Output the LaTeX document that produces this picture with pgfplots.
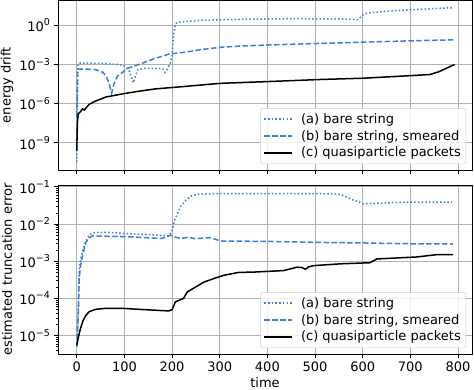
\documentclass[border=0pt]{standalone}
\usepackage{fontspec}
\setmainfont{DejaVu Sans}
\usepackage{pgfplots}
\pgfplotsset{compat=1.18}
\definecolor{mblue}{RGB}{56,128,218}
\definecolor{gridc}{RGB}{176,176,176}
\newcommand{\tl}[1]{10\raisebox{0.45em}{\fontsize{9.5}{9.5}\selectfont #1}}
\tikzset{
  la/.style={mblue, line width=1.5pt, dash pattern=on 1.5pt off 2.2pt},
  lb/.style={mblue, line width=1.5pt, dash pattern=on 5.5pt off 2.4pt},
  lc/.style={black, line width=1.5pt},
}
\pgfplotsset{
  legend image code/.code={\draw[#1] (0pt,0pt) -- (28pt,0pt);},
  myax/.style={
    scale only axis, width=414pt,
    xmin=-39.5, xmax=829.5,
    xtick={0,100,...,800},
    grid=major,
    major grid style={gridc, line width=0.8pt},
    axis line style={line width=0.8pt},
    tick align=outside, tick pos=left,
    major tick length=3.5pt, minor tick length=2pt,
    every tick/.style={black, line width=0.8pt},
    minor tick style={black, line width=0.6pt},
    tick label style={font=\fontsize{13}{15}\selectfont},
    label style={font=\fontsize{13}{15}\selectfont},
    every axis y label/.style={at={(axis description cs:0,0.5)}, xshift=-51pt, rotate=90, anchor=center},
    legend style={at={(axis description cs:1,0)}, anchor=south east, xshift=-6pt, yshift=6pt,
      draw=gray!40, rounded corners=2pt, fill=white, fill opacity=0.8, text opacity=1,
      font=\fontsize{13}{15}\selectfont, cells={anchor=west}, row sep=1pt,
      inner xsep=3pt, inner ysep=3pt,
      /tikz/every odd column/.append style={column sep=6pt}},
  }
}
\begin{document}
\fontsize{13}{15.6}\selectfont
\begin{tikzpicture}
\begin{semilogyaxis}[myax, name=top, at={(0,0)}, anchor=north west, height=170pt,
  /pgf/number format/assume math mode=true,
  ymin=8e-12, ymax=9e1,
  ytick={1e-9,1e-6,1e-3,1}, yticklabels={\tl{−9},\tl{−6},\tl{−3},\tl{0}},
  minor ytick={}, xticklabels={},
  ylabel={energy drift}]
\addplot[la] coordinates {
(0,3.2e-11) (1,1e-7) (2,1.1e-3) (5,1.26e-3) (30,1.26e-3) (60,1.2e-3) (90,1e-3)
(100,7.9e-4) (110,3.2e-4) (115,1e-4) (119,4e-5) (123,1.26e-4) (128,4e-4)
(140,5e-4) (160,5e-4) (180,5e-4) (185,2.5e-4) (188,3.2e-4) (192,6.3e-4)
(197,1.6e-3) (200,5e-3) (203,0.16) (207,1.4) (215,1.8) (260,2.5) (350,3.0)
(450,3.3) (550,3.2) (590,2.8) (600,6.3) (610,8.9) (650,12.6) (700,15.8)
(750,20) (790,23)};
\addlegendentry{(a) bare string}
\addplot[lb] coordinates {
(0,1e-7) (1,3.2e-5) (2,4.5e-4) (20,4.5e-4) (40,4e-4) (55,2.5e-4) (63,1e-4)
(68,3.2e-5) (73,6.3e-6) (78,3.2e-5) (85,1.26e-4) (96,2.5e-4) (106,5e-4)
(130,1e-3) (162,2.75e-3) (193,6.3e-3) (228,8.9e-3) (260,1.4e-2) (301,2.1e-2)
(350,2.7e-2) (406,3.2e-2) (511,4.2e-2) (601,5.2e-2) (700,6.6e-2) (790,7.9e-2)};
\addlegendentry{(b) bare string, smeared}
\addplot[lc] coordinates {
(0,2.5e-10) (0.5,3.2e-9) (1.5,5e-8) (3,1.6e-7) (8,2.5e-7) (12,4e-7) (16,3.2e-7)
(20,5e-7) (26,8.9e-7) (40,1.6e-6) (61,3.2e-6) (96,5.6e-6) (130,8.9e-6)
(165,1.35e-5) (228,2.1e-5) (301,3.6e-5) (406,5e-5) (511,7.1e-5) (601,8.9e-5)
(700,1.4e-4) (741,1.7e-4) (760,2.8e-4) (775,5e-4) (793,1e-3)};
\addlegendentry{(c) quasiparticle packets}
\end{semilogyaxis}
\begin{semilogyaxis}[myax, name=bot, at={(0,-185pt)}, anchor=north west, height=169pt,
  /pgf/number format/assume math mode=true,
  ymin=3.2e-6, ymax=0.112,
  ytick={1e-5,1e-4,1e-3,1e-2,1e-1},
  yticklabels={\tl{−5},\tl{−4},\tl{−3},\tl{−2},\tl{−1}},
  minor ytick={4e-6,5e-6,6e-6,7e-6,8e-6,9e-6,2e-5,3e-5,4e-5,5e-5,6e-5,7e-5,8e-5,9e-5,
    2e-4,3e-4,4e-4,5e-4,6e-4,7e-4,8e-4,9e-4,2e-3,3e-3,4e-3,5e-3,6e-3,7e-3,8e-3,9e-3,
    2e-2,3e-2,4e-2,5e-2,6e-2,7e-2,8e-2,9e-2},
  ylabel={estimated truncation error},
  xlabel={time},
  xlabel style={at={(axis description cs:0.5,0)}, yshift=-29pt, anchor=center}]
\addplot[la] coordinates {
(0,5e-6) (3,6.3e-5) (5,6.3e-4) (8,1.1e-3) (12,1.9e-3) (19,3.5e-3) (26,5e-3)
(33,5.9e-3) (60,6e-3) (100,5.6e-3) (150,5.2e-3) (193,4.8e-3) (200,6.3e-3)
(205,1.26e-2) (218,3e-2) (230,4.5e-2) (239,5.6e-2) (253,6.3e-2) (300,6.6e-2)
(400,6.6e-2) (500,6.6e-2) (553,6.3e-2) (575,4.7e-2) (601,3.5e-2) (650,3.7e-2)
(700,3.9e-2) (787,3.9e-2)};
\addlegendentry{(a) bare string}
\addplot[lb] coordinates {
(0,5e-6) (3,3.2e-5) (5,3.4e-4) (8,8e-4) (12,1.4e-3) (19,3.2e-3) (26,4.2e-3)
(33,4.8e-3) (60,4.7e-3) (100,4.6e-3) (130,4.4e-3) (160,4.2e-3) (179,4.1e-3)
(197,5e-3) (205,4.5e-3) (218,4.1e-3) (235,4.4e-3) (249,4e-3) (265,4.2e-3)
(281,4.3e-3) (301,3.5e-3) (406,3.4e-3) (511,3.2e-3) (600,3.1e-3) (700,2.95e-3)
(790,2.9e-3)};
\addlegendentry{(b) bare string, smeared}
\addplot[lc] coordinates {
(0,5.6e-6) (4,1e-5) (8,1.6e-5) (13,2.5e-5) (19,3.5e-5) (26,4.4e-5) (40,5.1e-5)
(60,5.4e-5) (96,5.4e-5) (140,5e-5) (193,4.6e-5) (200,5e-5) (207,8.1e-5)
(224,1e-4) (232,1.5e-4) (267,2.75e-4) (290,3.5e-4) (309,4.2e-4) (340,5e-4)
(371,5.1e-4) (434,5.6e-4) (450,6.3e-4) (462,6.9e-4) (472,6.8e-4) (480,6.1e-4)
(487,7.1e-4) (497,7.6e-4) (553,8.5e-4) (615,9.1e-4) (630,1.15e-3) (713,1.3e-3)
(755,1.5e-3) (790,1.5e-3)};
\addlegendentry{(c) quasiparticle packets}
\end{semilogyaxis}
\pgfresetboundingbox
\path (-58pt,-390pt) rectangle (416pt,0pt);
\end{tikzpicture}
\end{document}
